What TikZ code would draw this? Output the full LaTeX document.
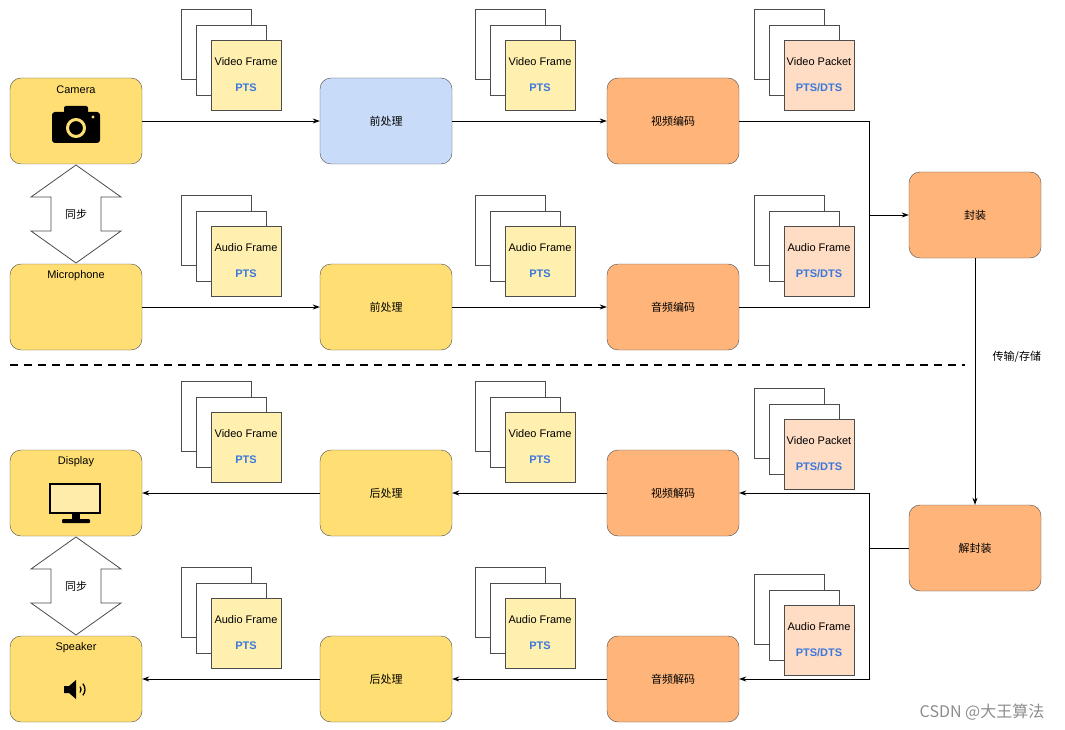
\documentclass[tikz,border=0pt]{standalone}
\usepackage{fontspec}
\setmainfont{Liberation Sans}
\newfontfamily\cjk{Noto Sans CJK SC}
\usetikzlibrary{arrows.meta}
\definecolor{boxyellow}{HTML}{FFDF73}
\definecolor{boxblue}{HTML}{C8DBF8}
\definecolor{boxorange}{HTML}{FFB57A}
\definecolor{frameyellow}{HTML}{FFF0B0}
\definecolor{packetorange}{HTML}{FFDCC4}
\definecolor{ptsblue}{HTML}{3B78DC}
\tikzset{
  stage/.style={draw=black!70,rounded corners=11pt,minimum width=132pt,minimum height=86pt,font=\fontsize{11}{13}\selectfont\cjk},
  card/.style={draw=black!70,fill=white,minimum width=70pt,minimum height=70pt,line width=0.8pt},
  flow/.style={-{Stealth[length=7pt,width=5pt]},line width=0.8pt},
  link/.style={line width=0.8pt},
  sync/.style={draw=black!70,fill=white,line width=0.8pt}
}
% stack of three cards: name, x, y, title, stamp, fill
\newcommand{\cardstack}[6]{
  \node[card] at (#2-30,#3-31) {};
  \node[card] at (#2-15,#3-15) {};
  \node[card,fill=#6] (#1) at (#2,#3) {};
  \node[font=\fontsize{11}{13}\selectfont] at (#2,#3-13) {#4};
  \node[font=\fontsize{11}{13}\selectfont\bfseries,text=ptsblue] at (#2,#3+13) {#5};
}
% vertical double arrow: name, x, top y
\newcommand{\syncarrow}[3]{
  \draw[sync] (#2,#3) -- (#2+45,#3+32) -- (#2+25,#3+32) -- (#2+25,#3+66) -- (#2+45,#3+66)
    -- (#2,#3+98) -- (#2-45,#3+66) -- (#2-25,#3+66) -- (#2-25,#3+32) -- (#2-45,#3+32) -- cycle;
  \node[font=\fontsize{11}{13}\selectfont\cjk] (#1) at (#2,#3+49) {同步};
}
\begin{document}
\begin{tikzpicture}[x=1pt,y=-1pt]
\useasboundingbox (0,0) rectangle (1065,730);
% sources and sinks
\node[stage,fill=boxyellow] (camera) at (76,121) {};
\node[font=\fontsize{11}{13}\selectfont] at (76,90) {Camera};
\node[stage,fill=boxyellow] (mic) at (76,307) {};
\node[font=\fontsize{11}{13}\selectfont] at (76,276) {Microphone};
\node[stage,fill=boxyellow] (display) at (76,493) {};
\node[font=\fontsize{11}{13}\selectfont] at (76,462) {Display};
\node[stage,fill=boxyellow] (speaker) at (76,679) {};
\node[font=\fontsize{11}{13}\selectfont] at (76,648) {Speaker};
% icons
\fill[black,rounded corners=3pt] (52,112) rectangle (100,143);
\fill[black,rounded corners=2pt] (64,106) rectangle (88,114);
\draw[boxyellow,line width=3pt] (76,128) circle (8.5pt);
\fill[boxyellow] (93,117) circle (1.6pt);
\draw[black,line width=2pt,fill=boxyellow!60!white] (50,484) rectangle (100,513);
\fill[black] (72,513) rectangle (80,519);
\fill[black,rounded corners=1pt] (62,519) rectangle (90,523);
\fill[black] (64,686) -- (69,686) -- (76,680) -- (76,699) -- (69,693) -- (64,693) -- cycle;
\draw[black,line width=1.3pt] (76,689.5) ++(-35:5) arc (-35:35:5);
\draw[black,line width=1.3pt] (76,689.5) ++(-40:9) arc (-40:40:9);
% sync arrows
\syncarrow{syncA}{76}{165}
\syncarrow{syncB}{76}{537}
% processing stages
\node[stage,fill=boxblue] (vpre) at (386,121) {前处理};
\node[stage,fill=boxyellow] (apre) at (386,307) {前处理};
\node[stage,fill=boxorange] (venc) at (673,121) {视频编码};
\node[stage,fill=boxorange] (aenc) at (673,307) {音频编码};
\node[stage,fill=boxorange] (mux) at (975,215) {封装};
\node[stage,fill=boxorange] (demux) at (975,548) {解封装};
\node[stage,fill=boxorange] (vdec) at (673,493) {视频解码};
\node[stage,fill=boxorange] (adec) at (673,679) {音频解码};
\node[stage,fill=boxyellow] (vpost) at (386,493) {后处理};
\node[stage,fill=boxyellow] (apost) at (386,679) {后处理};
% frame stacks
\cardstack{vf1}{246}{75}{Video Frame}{PTS}{frameyellow}
\cardstack{vf2}{540}{75}{Video Frame}{PTS}{frameyellow}
\cardstack{vp1}{819}{75}{Video Packet}{PTS/DTS}{packetorange}
\cardstack{af1}{246}{261}{Audio Frame}{PTS}{frameyellow}
\cardstack{af2}{540}{261}{Audio Frame}{PTS}{frameyellow}
\cardstack{ap1}{819}{261}{Audio Frame}{PTS/DTS}{packetorange}
\cardstack{vf3}{246}{447}{Video Frame}{PTS}{frameyellow}
\cardstack{vf4}{540}{447}{Video Frame}{PTS}{frameyellow}
\cardstack{vp2}{819}{454}{Video Packet}{PTS/DTS}{packetorange}
\cardstack{af3}{246}{633}{Audio Frame}{PTS}{frameyellow}
\cardstack{af4}{540}{633}{Audio Frame}{PTS}{frameyellow}
\cardstack{ap2}{819}{640}{Audio Frame}{PTS/DTS}{packetorange}
% connectors
\coordinate (muxin) at (869,215);
\coordinate (demuxout) at (869,548);
\draw[flow] (camera) -- (vpre);
\draw[flow] (vpre) -- (venc);
\draw[flow] (mic) -- (apre);
\draw[flow] (apre) -- (aenc);
\draw[link] (venc.east) -| (muxin);
\draw[link] (aenc.east) -| (muxin);
\draw[flow] (muxin) -- (mux);
\draw[flow] (mux) -- node[right=14pt,pos=0.4,font=\fontsize{11}{13}\selectfont\cjk] {传输/存储} (demux);
\draw[link] (demux) -- (demuxout);
\draw[flow] (demuxout) |- (vdec.east);
\draw[flow] (demuxout) |- (adec.east);
\draw[flow] (vdec) -- (vpost);
\draw[flow] (vpost) -- (display);
\draw[flow] (adec) -- (apost);
\draw[flow] (apost) -- (speaker);
\draw[line width=2pt,dash pattern=on 8pt off 6pt] (10,365) -- (965,365);
\node[text=black!45,font=\fontsize{16}{18}\selectfont\cjk] at (982,712) {CSDN @大王算法};
\end{tikzpicture}
\end{document}
